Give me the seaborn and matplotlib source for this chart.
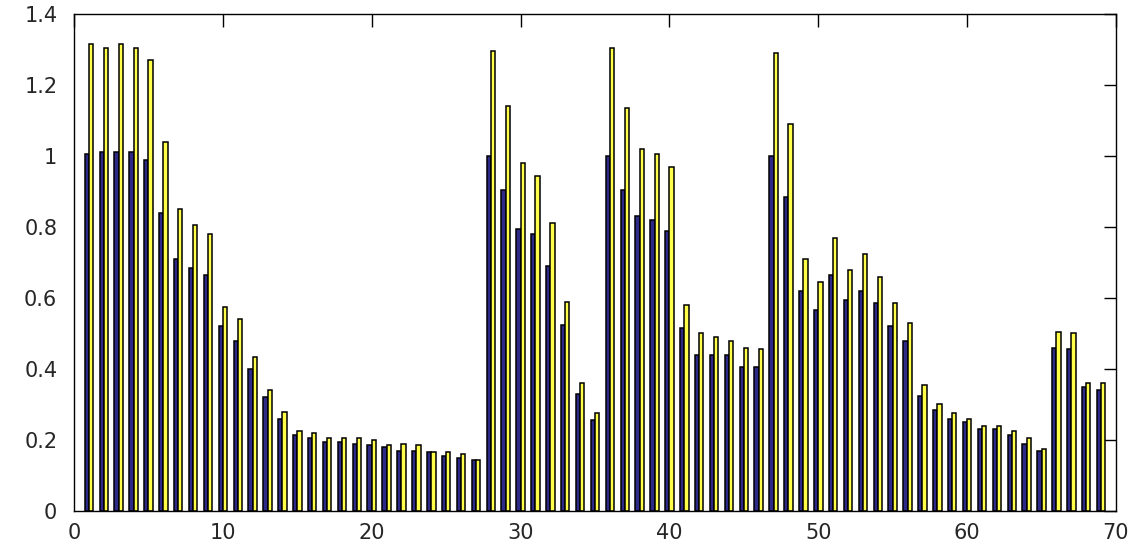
import numpy as np
import pandas as pd
import matplotlib
matplotlib.use("Agg")
import matplotlib.pyplot as plt
import seaborn as sns
from matplotlib.ticker import FuncFormatter

groups = list(range(1, 70))
series_a = [1.005, 1.01, 1.01, 1.01, 0.99, 0.84, 0.71, 0.685, 0.665, 0.52,
            0.48, 0.40, 0.32, 0.26, 0.215, 0.205, 0.195, 0.195, 0.19, 0.185,
            0.18, 0.17, 0.17, 0.165, 0.155, 0.15, 0.145, 1.0, 0.905, 0.795,
            0.78, 0.69, 0.525, 0.33, 0.255, 1.0, 0.905, 0.83, 0.82, 0.79,
            0.515, 0.44, 0.44, 0.44, 0.405, 0.405, 1.0, 0.885, 0.62, 0.565,
            0.665, 0.595, 0.62, 0.585, 0.52, 0.48, 0.325, 0.285, 0.26, 0.25,
            0.23, 0.23, 0.215, 0.19, 0.17, 0.46, 0.455, 0.35, 0.34]
series_b = [1.315, 1.305, 1.315, 1.305, 1.27, 1.04, 0.85, 0.805, 0.78, 0.575,
            0.54, 0.435, 0.34, 0.28, 0.225, 0.22, 0.205, 0.205, 0.205, 0.2,
            0.185, 0.19, 0.185, 0.165, 0.165, 0.16, 0.145, 1.295, 1.14, 0.98,
            0.945, 0.81, 0.59, 0.36, 0.275, 1.305, 1.135, 1.02, 1.005, 0.97,
            0.58, 0.50, 0.49, 0.48, 0.46, 0.455, 1.29, 1.09, 0.71, 0.645,
            0.77, 0.68, 0.725, 0.66, 0.585, 0.53, 0.355, 0.30, 0.275, 0.26,
            0.24, 0.24, 0.225, 0.205, 0.175, 0.505, 0.50, 0.36, 0.36]
series_names = ["A", "B"]
x_ticks = [0, 10, 20, 30, 40, 50, 60, 70]
y_ticks = [0, 0.2, 0.4, 0.6, 0.8, 1.0, 1.2, 1.4]

df = pd.DataFrame({
    "x": groups * 2,
    "value": series_a + series_b,
    "series": [series_names[0]] * len(groups) + [series_names[1]] * len(groups),
})

sns.set_style("white")
plt.rcParams['font.family'] = ['DejaVu Sans']

fig = plt.figure(figsize=(11.37, 5.55), dpi=100)
ax = fig.add_axes([0.0651, 0.0793, 0.9164, 0.8955])

sns.barplot(data=df, x="x", y="value", hue="series", native_scale=True,
            palette=["#2e2a88", "#ffff4a"], saturation=1, width=0.571, gap=0,
            edgecolor="black", linewidth=1.1, legend=False, ax=ax, errorbar=None)

ax.set_xlim(0, 70)
ax.set_ylim(0, 1.4)
ax.set_xticks(x_ticks)
ax.set_yticks(y_ticks)
ax.yaxis.set_major_formatter(FuncFormatter(lambda v, p: f"{v:g}"))
ax.xaxis.set_major_formatter(FuncFormatter(lambda v, p: f"{v:g}"))
ax.set_xlabel("")
ax.set_ylabel("")
for s in ax.spines.values():
    s.set_visible(True)
    s.set_color("black")
    s.set_linewidth(1.0)
ax.tick_params(direction="in", length=9, width=1, color="black",
               top=True, right=True, labelsize=15, labelcolor="#262626")
ax.tick_params(axis="x", pad=9)
ax.tick_params(axis="y", pad=12)

fig.savefig("out.png", dpi=100)
